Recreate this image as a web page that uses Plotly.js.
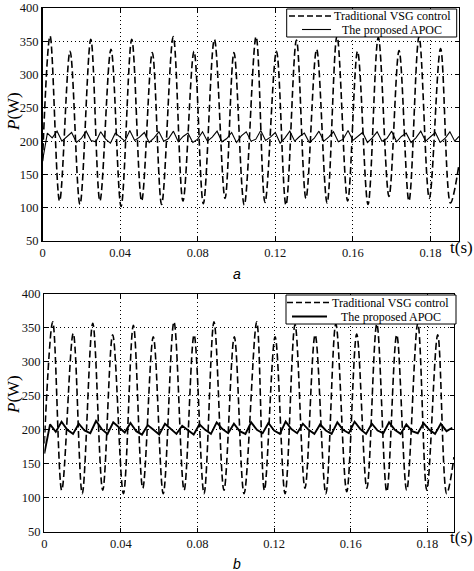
<!DOCTYPE html>
<html>
<head>
<meta charset="utf-8">
<script src="https://cdn.plot.ly/plotly-3.0.1.min.js"></script>
<style>
  html, body { margin: 0; padding: 0; background: #fff; }
  #myDiv { width: 474px; height: 571px; }
</style>
</head>
<body>
<div id="myDiv"></div>
<script>
// axis ticks (the last grid line is labelled 0.18 in the original figure)
var tickVals = [0, 0.04, 0.08, 0.12, 0.16, 0.2];
var tickText = ['0', '0.04', '0.08', '0.12', '0.16', '0.18'];
var legendNames = ['Traditional VSG control', 'The proposed APOC'];

// figure a : traditional VSG control (peaks and troughs)
var aVsgT = [0, 0.0039, 0.0088, 0.0142, 0.0193, 0.0249, 0.0296, 0.0353, 0.0405, 0.0460,
  0.0511, 0.0566, 0.0614, 0.0674, 0.0724, 0.0781, 0.0829, 0.0886, 0.0941, 0.0987,
  0.1040, 0.1101, 0.1147, 0.1206, 0.1255, 0.1309, 0.1358, 0.1413, 0.1467, 0.1518,
  0.1573, 0.1624, 0.1678, 0.1731, 0.1786, 0.1838, 0.1889, 0.1941, 0.1994, 0.2052,
  0.2103, 0.2147];
var aVsgP = [170, 358, 110, 335, 105, 353, 110, 338, 102, 353,
  110, 333, 105, 357, 110, 335, 106, 353, 114, 333,
  104, 357, 108, 335, 104, 352, 114, 338, 107, 358,
  110, 335, 105, 356, 117, 336, 110, 357, 114, 339,
  107, 165];

// figure a : proposed APOC
var aApocT = [0, 0.0025, 0.005, 0.0075, 0.01, 0.0125, 0.015, 0.0175, 0.02, 0.0225,
  0.025, 0.0275, 0.03, 0.0325, 0.035, 0.0375, 0.04, 0.0425, 0.045, 0.0475,
  0.05, 0.0525, 0.055, 0.0575, 0.06, 0.0625, 0.065, 0.0675, 0.07, 0.0725,
  0.075, 0.0775, 0.08, 0.0825, 0.085, 0.0875, 0.09, 0.0925, 0.095, 0.0975,
  0.1, 0.1025, 0.105, 0.1075, 0.11, 0.1125, 0.115, 0.1175, 0.12, 0.1225,
  0.125, 0.1275, 0.13, 0.1325, 0.135, 0.1375, 0.14, 0.1425, 0.145, 0.1475,
  0.15, 0.1525, 0.155, 0.1575, 0.16, 0.1625, 0.165, 0.1675, 0.17, 0.1725,
  0.175, 0.1775, 0.18, 0.1825, 0.185, 0.1875, 0.19, 0.1925, 0.195, 0.1975,
  0.2, 0.2025, 0.205, 0.2075, 0.21, 0.2125, 0.2147];
var aApocP = [170, 212, 205, 215, 200, 207, 213, 198, 204, 215,
  201, 199, 214, 203, 197, 212, 206, 200, 216, 201,
  206, 213, 198, 205, 214, 200, 204, 215, 199, 207,
  212, 198, 203, 214, 200, 206, 215, 199, 204, 213,
  198, 208, 214, 200, 203, 216, 201, 206, 213, 197,
  205, 215, 200, 207, 212, 198, 204, 215, 200, 206,
  214, 199, 203, 216, 201, 207, 213, 198, 205, 214,
  200, 204, 215, 199, 207, 212, 198, 205, 215, 200,
  206, 213, 198, 204, 214, 200, 207];

// figure b : traditional VSG control
var bVsgT = [0, 0.0044, 0.0091, 0.0151, 0.0198, 0.0253, 0.0305, 0.0357, 0.0413, 0.0465,
  0.0514, 0.0569, 0.0621, 0.0677, 0.0730, 0.0782, 0.0834, 0.0886, 0.0938, 0.0992,
  0.1043, 0.1109, 0.1149, 0.1205, 0.1257, 0.1309, 0.1361, 0.1414, 0.1470, 0.1522,
  0.1579, 0.1631, 0.1684, 0.1736, 0.1788, 0.1840, 0.1892, 0.1950, 0.1997, 0.2054,
  0.2101, 0.2139];
var bVsgP = [180, 359, 111, 342, 106, 357, 111, 340, 106, 354,
  114, 337, 106, 359, 111, 340, 106, 359, 111, 337,
  106, 359, 111, 337, 106, 355, 114, 340, 106, 356,
  109, 341, 114, 356, 109, 340, 111, 357, 111, 340,
  106, 160];

// figure b : proposed APOC
var bApocT = [0, 0.003, 0.006, 0.009, 0.012, 0.015, 0.018, 0.021, 0.024, 0.027,
  0.03, 0.033, 0.036, 0.039, 0.042, 0.045, 0.048, 0.051, 0.054, 0.057,
  0.06, 0.063, 0.066, 0.069, 0.072, 0.075, 0.078, 0.081, 0.084, 0.087,
  0.09, 0.093, 0.096, 0.099, 0.102, 0.105, 0.108, 0.111, 0.114, 0.117,
  0.12, 0.123, 0.126, 0.129, 0.132, 0.135, 0.138, 0.141, 0.144, 0.147,
  0.15, 0.153, 0.156, 0.159, 0.162, 0.165, 0.168, 0.171, 0.174, 0.177,
  0.18, 0.183, 0.186, 0.189, 0.192, 0.195, 0.198, 0.201, 0.204, 0.207,
  0.21, 0.213];
var bApocP = [165, 208, 197, 212, 200, 194, 209, 199, 195, 213,
  201, 194, 211, 203, 196, 210, 198, 193, 207, 200,
  193, 209, 201, 194, 206, 199, 193, 208, 200, 194,
  211, 201, 195, 209, 198, 194, 211, 200, 195, 210,
  199, 194, 212, 201, 195, 209, 200, 194, 208, 199,
  194, 211, 200, 195, 212, 201, 194, 209, 199, 195,
  211, 200, 194, 208, 198, 195, 210, 200, 194, 209,
  198, 203];

var W = 474, H = 571;
var px = v => v / W;          // pixel -> paper x
var py = v => 1 - v / H;      // pixel -> paper y
var serif = 'Liberation Serif, Times New Roman, serif';
var DASH = '7px,3.5px';

var data = [
  {x: aVsgT, y: aVsgP, xaxis: 'x', yaxis: 'y', mode: 'lines',
   line: {color: '#000', width: 1.6, dash: DASH, shape: 'spline', smoothing: 1}},
  {x: aApocT, y: aApocP, xaxis: 'x', yaxis: 'y', mode: 'lines',
   line: {color: '#000', width: 1.1}},
  {x: bVsgT, y: bVsgP, xaxis: 'x2', yaxis: 'y2', mode: 'lines',
   line: {color: '#000', width: 1.6, dash: DASH, shape: 'spline', smoothing: 1}},
  {x: bApocT, y: bApocP, xaxis: 'x2', yaxis: 'y2', mode: 'lines',
   line: {color: '#000', width: 1.9}}
];

function xAx(domain, anchor, xmax) {
  return {
    domain: domain, anchor: anchor, range: [0, xmax],
    tickvals: tickVals, ticktext: tickText,
    ticks: 'inside', ticklen: 4, tickcolor: '#000',
    showline: true, linecolor: '#000', linewidth: 1.4, mirror: 'ticks',
    showgrid: true, gridcolor: '#000', gridwidth: 1, griddash: '1px,3px',
    zeroline: false, ticklabeloverflow: 'allow',
    tickfont: {family: serif, size: 12.5, color: '#111'}
  };
}
function yAx(domain, anchor) {
  return {
    domain: domain, anchor: anchor, range: [50, 400], dtick: 50,
    ticks: 'inside', ticklen: 4, tickcolor: '#000',
    showline: true, linecolor: '#000', linewidth: 1.4, mirror: 'ticks',
    showgrid: true, gridcolor: '#000', gridwidth: 1, griddash: '1px,3px',
    zeroline: false, ticklabeloverflow: 'allow',
    tickfont: {family: serif, size: 12.5, color: '#111'}
  };
}

// legend boxes drawn by hand to match the compact MATLAB style
function legendShapes(top, bot, left, right, row1, row2, d0, d1, s0, s1, sw) {
  return [
    {type: 'rect', xref: 'paper', yref: 'paper', layer: 'above',
     x0: px(left), x1: px(right), y0: py(bot), y1: py(top),
     fillcolor: '#fff', line: {color: '#000', width: 1}},
    {type: 'line', xref: 'paper', yref: 'paper', layer: 'above',
     x0: px(d0), x1: px(d1), y0: py(row1), y1: py(row1),
     line: {color: '#000', width: 1.3, dash: '6px,3px'}},
    {type: 'line', xref: 'paper', yref: 'paper', layer: 'above',
     x0: px(s0), x1: px(s1), y0: py(row2), y1: py(row2),
     line: {color: '#000', width: sw}}
  ];
}
function txt(text, x, y, opts) {
  return Object.assign({text: text, xref: 'paper', yref: 'paper', x: px(x), y: py(y),
    showarrow: false, xanchor: 'center', yanchor: 'middle', borderpad: 0,
    font: {family: serif, size: 12, color: '#000'}}, opts || {});
}

var shapes = [].concat(
  legendShapes(9, 37, 286.7, 456.7, 16, 29.5, 289, 331, 302, 331, 1.1),
  legendShapes(295, 324, 286, 456, 302.5, 316.5, 287, 329, 292, 327, 1.9)
);

var annotations = [
  txt(legendNames[0], 333, 16, {xanchor: 'left'}),
  txt(legendNames[1], 341, 29.5, {xanchor: 'left'}),
  txt(legendNames[0], 331, 302.5, {xanchor: 'left'}),
  txt(legendNames[1], 340, 316.5, {xanchor: 'left'}),
  txt('t(s)', 474, 248, {xanchor: 'right', font: {family: serif, size: 17, color: '#000'}}),
  txt('t(s)', 474, 537, {xanchor: 'right', font: {family: serif, size: 17, color: '#000'}}),
  txt('<i>P</i>(W)', 13, 112, {textangle: -90, font: {family: serif, size: 17, color: '#000'}}),
  txt('<i>P</i>(W)', 13, 395, {textangle: -90, font: {family: serif, size: 17, color: '#000'}}),
  txt('<i>a</i>', 237, 274, {font: {family: 'Liberation Sans, Arial, sans-serif', size: 14, color: '#000'}}),
  txt('<i>b</i>', 237, 564, {font: {family: 'Liberation Sans, Arial, sans-serif', size: 14, color: '#000'}})
];

var layout = {
  width: W, height: H,
  margin: {l: 0, r: 0, t: 0, b: 0},
  paper_bgcolor: '#fff', plot_bgcolor: '#fff',
  showlegend: false,
  xaxis: xAx([px(42.5), px(459)], 'y', 0.2147),
  yaxis: yAx([py(241), py(8)], 'x'),
  xaxis2: xAx([px(44.3), px(454)], 'y2', 0.2139),
  yaxis2: yAx([py(531.7), py(294)], 'x2'),
  shapes: shapes,
  annotations: annotations
};

Plotly.newPlot('myDiv', data, layout, {staticPlot: true, displayModeBar: false});
</script>
</body>
</html>
